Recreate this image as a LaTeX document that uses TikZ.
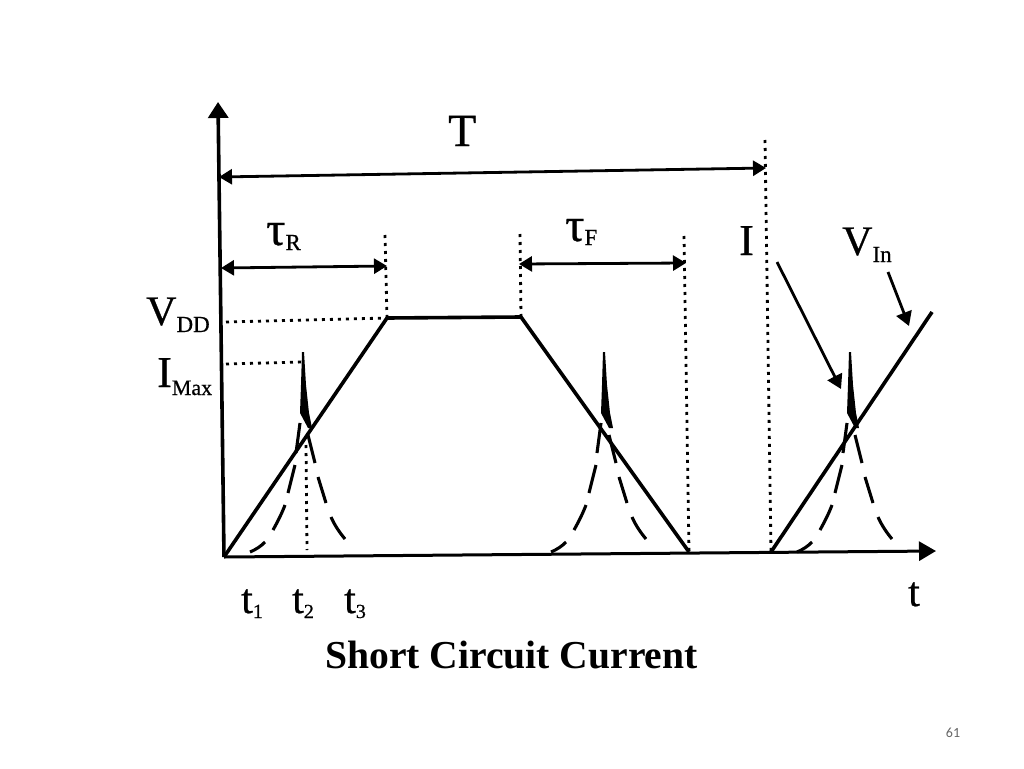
\documentclass[tikz,border=0pt]{standalone}
\usepackage{fontspec}
\setmainfont{Liberation Serif}
\newfontfamily\scanfont[FakeBold=0.6]{Liberation Serif}
\newfontfamily\slidefont{Carlito}
\usetikzlibrary{arrows.meta}
\newcommand{\fs}[1]{\fontsize{#1}{#1}\selectfont}
\newcommand{\lab}[5]{{\fs{#1}#2}\raisebox{-#4pt}{\fs{#5}#3}}
\tikzset{
  x=1pt,y=-1pt,
  axisline/.style={line width=3.6pt,black},
  ramp/.style={line width=3.6pt,black,line join=round},
  span/.style={line width=2.8pt,black,{Triangle[length=13pt,width=15pt]}-{Triangle[length=13pt,width=15pt]}},
  pointer/.style={line width=2.8pt,black,-{Triangle[length=14pt,width=16pt]}},
  guide/.style={line width=2.8pt,black,dash pattern=on 3pt off 5pt},
  dashcurve/.style={line width=3.1pt,black},
  spike/.style={fill=black,draw=none},
  scan/.style={inner sep=0pt,anchor=base west,black,font=\scanfont},
}
\newcommand{\peak}[1]{%
  \begin{scope}[xshift=#1pt]
    \fill[spike] (849,352) -- (851,352) -- (853,385) -- (856,413) -- (859,428) -- (855,428) -- (847,413) -- (848,385) -- cycle;
    \draw[dashcurve] (797,552) .. controls (804,549) and (808,546) .. (812,542);
    \draw[dashcurve] (820,530) .. controls (825,521) and (829,513) .. (832,505);
    \draw[dashcurve] (835,493) -- (842,465);
    \draw[dashcurve] (843,453) -- (847,423);
    \draw[dashcurve] (855,435) -- (862,463);
    \draw[dashcurve] (865,477) -- (873,503);
    \draw[dashcurve] (878,517) .. controls (882,526) and (887,533) .. (892,539);
  \end{scope}}
\begin{document}
\begin{tikzpicture}
\useasboundingbox (0,0) rectangle (1024,768);
\fill[white] (0,0) rectangle (1024,768);
% named anchor points
\coordinate (origin) at (224,557);
\coordinate (ytip) at (218,102);
\coordinate (xtip) at (936,551);
\coordinate (topL) at (387,318);
\coordinate (topR) at (521,317);
\coordinate (footF) at (689,552);
\coordinate (footR) at (771,552);
\coordinate (endR) at (932,312);
\coordinate (TL) at (219,177);
\coordinate (TR) at (766,168);
\coordinate (TRtop) at (765,140);
\coordinate (tRL) at (221,268);
\coordinate (tRR) at (387,266);
\coordinate (tRtop) at (385,235);
\coordinate (tFL) at (519,264);
\coordinate (tFR) at (686,263);
\coordinate (tFLtop) at (520,234);
\coordinate (tFRtop) at (684,236);
\coordinate (vddL) at (226,322);
\coordinate (imaxL) at (226,364);
\coordinate (imaxR) at (302,362);
\coordinate (t2top) at (306,445);
\coordinate (t2foot) at (307,550);
\coordinate (Ifrom) at (777,262);
\coordinate (Ito) at (841,389);
\coordinate (Vfrom) at (888,272);
\coordinate (Vto) at (909,326);
% axes
\draw[axisline,-{Triangle[length=16pt,width=20pt]}] (origin) -- (ytip);
\draw[line width=3pt,black,-{Triangle[length=17pt,width=19pt]}] (origin) -- (xtip);
% waveform
\draw[ramp] (origin) -- (topL) -- (topR) -- (footF);
\draw[ramp] (footR) -- (endR);
% guides
\draw[guide] (TRtop) -- (footR);
\draw[guide] (tRtop) -- (topL);
\draw[guide] (tFLtop) -- (topR);
\draw[guide] (tFRtop) -- (footF);
\draw[guide] (vddL) -- (topL);
\draw[guide] (imaxL) -- (imaxR);
\draw[guide] (t2top) -- (t2foot);
% spans
\draw[span] (TL) -- (TR);
\draw[span] (tRL) -- (tRR);
\draw[span] (tFL) -- (tFR);
% pointers
\draw[pointer] (Ifrom) -- (Ito);
\draw[pointer] (Vfrom) -- (Vto);
% current peaks
\peak{-547}
\peak{-246}
\peak{0}
% labels
\node[scan] (lT) at (448,146) {\fs{46}T};
\node[scan] (lVDD) at (146,325) {\lab{42}{V}{DD}{7}{23}};
\node[scan] (lImax) at (157,387) {\lab{44}{I}{Max}{8}{22}};
\node[scan] (ltR) at (266,245) {{\fs{48}τ}\raisebox{-5pt}{\fs{23}R}};
\node[scan] (ltF) at (565,241) {{\fs{48}τ}\raisebox{-4pt}{\fs{23}F}};
\node[scan] (lI) at (739,255) {\fs{44}I};
\node[scan] (lVin) at (842,255) {\lab{42}{V}{In}{7}{23}};
\node[scan] (lt1) at (241,613) {\lab{42}{t}{1}{5}{20}};
\node[scan] (lt2) at (292,613) {\lab{42}{t}{2}{5}{20}};
\node[scan] (lt3) at (344,613) {\lab{42}{t}{3}{5}{20}};
\node[scan] (lt) at (908,606) {\fs{42}t};
\node[inner sep=0pt,anchor=base west,black] (title) at (325,668) {\fs{39.6}\bfseries Short Circuit Current};
\node[inner sep=0pt,text=black!60] (pageno) at (953,733) {\slidefont\fs{14}61};
\end{tikzpicture}
\end{document}
